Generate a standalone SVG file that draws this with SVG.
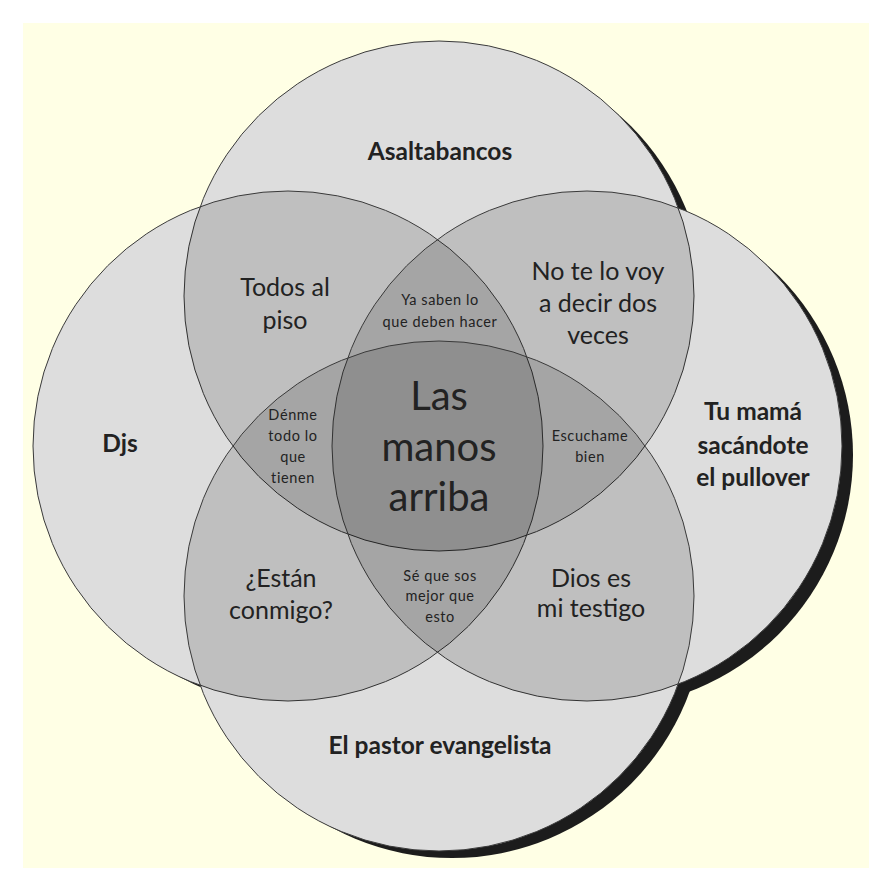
<svg xmlns="http://www.w3.org/2000/svg" width="892" height="892" viewBox="0 0 892 892">
<defs>
<style>
.bg{fill:#ffffe5}
.shadow{fill:#1c1c1c}
.base{fill:#ffffff}
.tint{fill:#000000;fill-opacity:0.135;stroke:#3a3a3a;stroke-width:1}
text{font-family:Lato,"Open Sans","Liberation Sans",sans-serif;fill:#222222;text-anchor:middle}
.set{font-weight:bold;font-size:24.5px}
.mid{font-size:25px}
.small{font-size:14.5px;letter-spacing:0.6px}
.core{font-size:40px}
</style>
</defs>
<rect x="0" y="0" width="892" height="892" fill="#ffffff"/>
<rect class="bg" x="23" y="23" width="846" height="845"/>
<g id="shadows">
<circle class="shadow" cx="452" cy="305" r="253"/>
<circle class="shadow" cx="301" cy="455" r="253"/>
<circle class="shadow" cx="600" cy="455" r="253"/>
<circle class="shadow" cx="452" cy="605" r="253"/>
</g>
<g id="bases">
<circle class="base" cx="439" cy="296" r="255"/>
<circle class="base" cx="288" cy="446" r="255"/>
<circle class="base" cx="587" cy="446" r="255"/>
<circle class="base" cx="439" cy="596" r="255"/>
</g>
<g id="set-asaltabancos">
<circle class="tint" cx="439" cy="296" r="255"/>
<text class="set" x="440" y="160">Asaltabancos</text>
</g>
<g id="set-djs">
<circle class="tint" cx="288" cy="446" r="255"/>
<text class="set" x="120" y="452">Djs</text>
</g>
<g id="set-tu-mama">
<circle class="tint" cx="587" cy="446" r="255"/>
<text class="set" x="753" y="420">Tu mamá</text>
<text class="set" x="753" y="454">sacándote</text>
<text class="set" x="753" y="486">el pullover</text>
</g>
<g id="set-pastor">
<circle class="tint" cx="439" cy="596" r="255"/>
<text class="set" x="440" y="754">El pastor evangelista</text>
</g>
<g id="region-todos">
<text class="mid" x="285" y="296">Todos al</text>
<text class="mid" x="285" y="329">piso</text>
</g>
<g id="region-no-te-lo-voy">
<text class="mid" x="598" y="280">No te lo voy</text>
<text class="mid" x="598" y="312">a decir dos</text>
<text class="mid" x="598" y="344">veces</text>
</g>
<g id="region-estan">
<text class="mid" x="281" y="587">¿Están</text>
<text class="mid" x="281" y="619">conmigo?</text>
</g>
<g id="region-dios">
<text class="mid" x="591" y="587">Dios es</text>
<text class="mid" x="591" y="617">mi testigo</text>
</g>
<g id="region-ya-saben">
<text class="small" x="440" y="305">Ya saben lo</text>
<text class="small" x="440" y="327">que deben hacer</text>
</g>
<g id="region-denme">
<text class="small" x="293" y="420">Dénme</text>
<text class="small" x="293" y="441">todo lo</text>
<text class="small" x="293" y="462">que</text>
<text class="small" x="293" y="483">tienen</text>
</g>
<g id="region-escuchame">
<text class="small" x="590" y="441">Escuchame</text>
<text class="small" x="590" y="462">bien</text>
</g>
<g id="region-se-que-sos">
<text class="small" x="440" y="581">Sé que sos</text>
<text class="small" x="440" y="601">mejor que</text>
<text class="small" x="440" y="622">esto</text>
</g>
<g id="region-center">
<text class="core" x="439" y="410">Las</text>
<text class="core" x="439" y="461">manos</text>
<text class="core" x="439" y="511">arriba</text>
</g>
</svg>
